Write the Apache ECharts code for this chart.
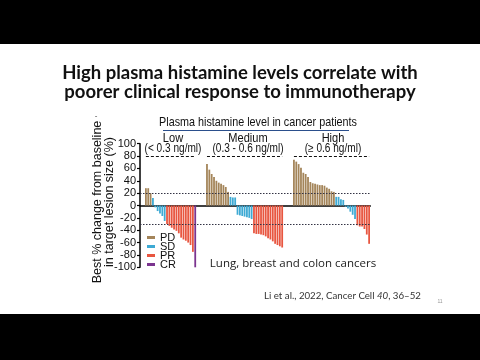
<!DOCTYPE html>
<html><head><meta charset="utf-8">
<script src="https://cdn.jsdelivr.net/npm/echarts@6/dist/echarts.min.js"></script>
<style>html,body{margin:0;padding:0;background:#fff}#c{width:480px;height:360px}</style>
</head><body><div id="c"></div>
<script>
// ---- data ----
const responses = ['PD', 'SD', 'PR', 'CR'];
const groupNames = ['Low', 'Medium', 'High'];
const groupRanges = ['(< 0.3 ng/ml)', '(0.3 - 0.6 ng/ml)', '(≥ 0.6 ng/ml)'];
const yAxisTitle = ['Best % change from baseline', 'in target lesion size (%)'];
const lowPD = [28, 28, 20];
const lowSD = [12, -3, -9, -13, -17, -25];
const lowPR = [-30, -33, -36, -39, -41, -45, -52, -55, -57, -60, -64, -75];
const lowCR = [-100];
const medPD = [67, 58, 51, 46, 40, 37, 35, 33, 30, 22];
const medSD = [14, 13, 13, -15, -16, -17, -18, -19, -20, -22];
const medPR = [-45, -46, -46, -47, -48, -50, -53, -55, -58, -62, -64, -66, -68];
const medCR = [];
const highPD = [74, 71, 67, 61, 53, 51, 46, 38, 36, 35, 34, 33, 33, 32, 29, 27, 23, 22];
const highSD = [14, 14, 10, 9, -2, -5, -10, -15, -22];
const highPR = [-32, -34, -34, -38, -47, -62];
const highCR = [];
const yTickMin = -100, yTickMax = 100, yTickStep = 20;
const pdThreshold = 20, prThreshold = -30, topLine = 80;

const groupData = [
  {PD: lowPD, SD: lowSD, PR: lowPR, CR: lowCR},
  {PD: medPD, SD: medSD, PR: medPR, CR: medCR},
  {PD: highPD, SD: highSD, PR: highPR, CR: highCR}
];
const colors = {PD: '#a4855a', SD: '#3eaad4', PR: '#e85640', CR: '#7b348f'};

// ---- build category layout ----
const leadSlots = 2, gapSlots = 4;
const cats = [];
const seriesData = {PD: [], SD: [], PR: [], CR: []};
const groupSpans = [];
function pushEmpty(n) { for (let i = 0; i < n; i++) { cats.push('e' + cats.length); responses.forEach(r => seriesData[r].push(null)); } }
pushEmpty(leadSlots);
groupData.forEach((g, gi) => {
  if (gi > 0) pushEmpty(gapSlots);
  const start = cats.length;
  responses.forEach(r => {
    g[r].forEach(v => {
      cats.push('b' + cats.length);
      responses.forEach(rr => seriesData[rr].push(rr === r ? v : null));
    });
  });
  groupSpans.push([start, cats.length - 1]);
});

const markData = groupSpans.map(s => [
  {coord: [cats[s[0]], topLine], lineStyle: {type: [3, 2], color: '#111', width: 1}},
  {coord: [cats[s[1]], topLine]}
]);
markData.push({yAxis: pdThreshold, lineStyle: {type: [1.5, 1.5], color: '#334', width: 1}});
markData.push({yAxis: prThreshold, lineStyle: {type: [1.5, 1.5], color: '#334', width: 1}});

const FN = 'Liberation Sans, Arial, sans-serif';

const series = responses.map((r, i) => ({
  name: r, type: 'bar', data: seriesData[r], barWidth: 1.8, barGap: '-100%',
  itemStyle: {color: colors[r]},
  z: 2,
  markLine: i === 0 ? {silent: true, symbol: 'none', label: {show: false}, data: markData, z: 3} : undefined
}));

const chart = echarts.init(document.getElementById('c'), null, {renderer: 'canvas'});
const gridLeft = 140, gridTop = 143.7, gridBottom = 360 - 267.3;
const slotW = 2.35;
const gridRight = 480 - (gridLeft + cats.length * slotW);

const groupLabelX = [173, 248, 333];
function ntext(x, y, text, size, sx) {
  return {type: 'text', x: x, y: y, scaleX: sx, scaleY: 1,
    style: {text: text, font: size + 'px ' + FN, fill: '#111', align: 'center', verticalAlign: 'middle'}};
}
const graphics = [
  {type: 'rect', shape: {x: 0, y: 0, width: 480, height: 44}, style: {fill: '#000'}, z: 10},
  {type: 'rect', shape: {x: 0, y: 314, width: 480, height: 46}, style: {fill: '#000'}, z: 10},
  {type: 'text', x: 240, y: 73, style: {text: 'High plasma histamine levels correlate with', font: 'bold 18.5px Lato, sans-serif', fill: '#111', align: 'center', verticalAlign: 'middle'}},
  {type: 'text', x: 240, y: 92.5, style: {text: 'poorer clinical response to immunotherapy', font: 'bold 18.5px Lato, sans-serif', fill: '#111', align: 'center', verticalAlign: 'middle'}},
  ntext(258, 122, 'Plasma histamine level in cancer patients', 13, 0.83),
  {type: 'line', shape: {x1: 163, y1: 130.5, x2: 349, y2: 130.5}, style: {stroke: '#2b4f8c', lineWidth: 1.2}},
  {type: 'text', x: 96, y: 116, style: {text: '-', font: '8px sans-serif', fill: '#444', align: 'center', verticalAlign: 'middle'}},
  {type: 'text', x: 293, y: 264, style: {text: 'Lung, breast and colon cancers', font: '11.5px "Open Sans", sans-serif', fill: '#222', align: 'center', verticalAlign: 'middle'}},
  {type: 'text', x: 264, y: 295.5, style: {text: '{n|Li et al., 2022, Cancer Cell }{i|40}{n|, 36–52}', rich: {n: {font: '9.7px Lato, sans-serif', fill: '#333'}, i: {font: 'italic 9.7px Lato, sans-serif', fill: '#333'}}, align: 'left', verticalAlign: 'middle'}},
  {type: 'text', x: 440, y: 302, style: {text: '11', font: '5px sans-serif', fill: '#999', align: 'center', verticalAlign: 'middle'}},
  {type: 'text', x: 98, y: 202, rotation: Math.PI / 2, style: {text: yAxisTitle[0], font: '12.5px ' + FN, fill: '#111', align: 'center', verticalAlign: 'middle'}},
  {type: 'text', x: 110, y: 202, rotation: Math.PI / 2, style: {text: yAxisTitle[1], font: '12.5px ' + FN, fill: '#111', align: 'center', verticalAlign: 'middle'}}
];
groupNames.forEach((g, i) => {
  graphics.push(ntext(groupLabelX[i], 138.3, g, 13, 0.85));
  graphics.push(ntext(groupLabelX[i], 148.5, groupRanges[i], 12, 0.84));
});

chart.setOption({
  backgroundColor: '#fff',
  animation: false,
  grid: {left: gridLeft, right: gridRight, top: gridTop, bottom: gridBottom, containLabel: false},
  legend: {
    data: responses, orient: 'vertical', left: 147, top: 232, icon: 'rect',
    itemWidth: 8, itemHeight: 3, itemGap: -2, padding: 0,
    textStyle: {fontSize: 11, color: '#111', fontFamily: FN}
  },
  xAxis: {
    type: 'category', data: cats, boundaryGap: true,
    axisLine: {onZero: true, lineStyle: {color: '#000', width: 1.5}},
    axisTick: {show: false}, axisLabel: {show: false}, splitLine: {show: false}
  },
  yAxis: {
    type: 'value', min: yTickMin, max: yTickMax, interval: yTickStep,
    axisLine: {show: true, lineStyle: {color: '#000', width: 1.5}},
    axisTick: {show: true, length: 3, lineStyle: {color: '#000', width: 1.2}},
    axisLabel: {fontSize: 11, color: '#111', margin: 4, fontFamily: FN},
    splitLine: {show: false}
  },
  series: series,
  graphic: graphics
});
</script>
</body></html>
